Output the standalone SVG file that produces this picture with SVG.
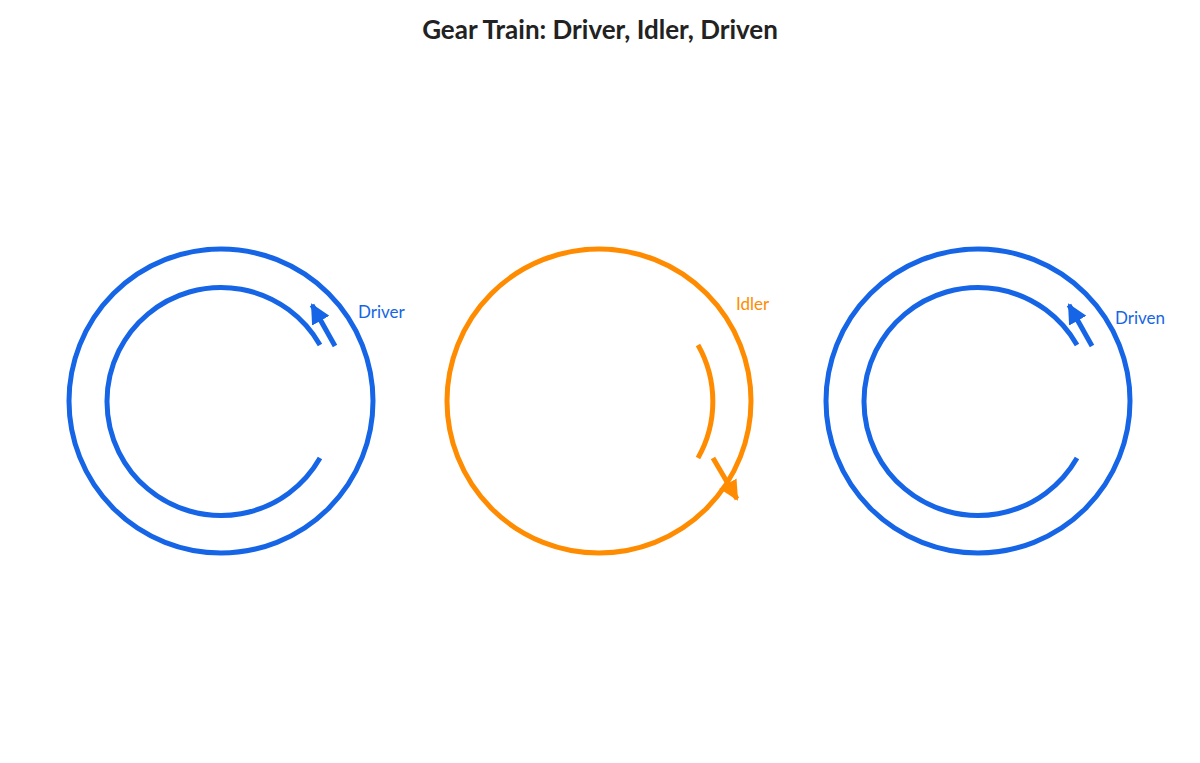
<svg xmlns="http://www.w3.org/2000/svg" width="1200" height="763" viewBox="0 0 1200 763">
<defs>
<marker id="ab" viewBox="0 0 10 10" refX="9" refY="5" markerWidth="4" markerHeight="4" orient="auto" markerUnits="strokeWidth"><path d="M0,0L10,5L0,10z" fill="#1565e6"/></marker>
<marker id="ao" viewBox="0 0 10 10" refX="9" refY="5" markerWidth="4" markerHeight="4" orient="auto" markerUnits="strokeWidth"><path d="M0,0L10,5L0,10z" fill="#ff8c00"/></marker>
</defs>
<style>
.b{fill:none;stroke:#1565e6;stroke-width:5}
.o{fill:none;stroke:#ff8c00;stroke-width:5}
text{font-family:"Lato","Noto Sans",sans-serif}
.t{font-size:26px;font-weight:bold;fill:#222}
.lb{font-size:17px;fill:#1565e6}
.lo{font-size:17px;fill:#ff8c00}
</style>
<rect width="1200" height="763" fill="#fff"/>
<text class="t" x="600" y="39" text-anchor="middle">Gear Train: Driver, Idler, Driven</text>
<g id="driver">
<circle class="b" cx="221" cy="401" r="152"/>
<text class="lb" x="358" y="318">Driver</text>
</g>
<g id="idler">
<circle class="o" cx="599" cy="401" r="152"/>
<text class="lo" x="736" y="310">Idler</text>
</g>
<g id="driven">
<circle class="b" cx="978" cy="401" r="152"/>
<text class="lb" x="1115" y="324">Driven</text>
</g>
<g id="connectors">
<path class="b" d="M320,345 A114,114 0 1 0 320,458"/>
<path class="b" d="M335,346 L312,305" marker-end="url(#ab)"/>
<path class="o" d="M698,345 A115,115 0 0 1 698,458"/>
<path class="o" d="M713,458 L737,499" marker-end="url(#ao)"/>
<path class="b" d="M1077,345 A114,114 0 1 0 1077,458"/>
<path class="b" d="M1092,346 L1069,305" marker-end="url(#ab)"/>
</g>
</svg>
